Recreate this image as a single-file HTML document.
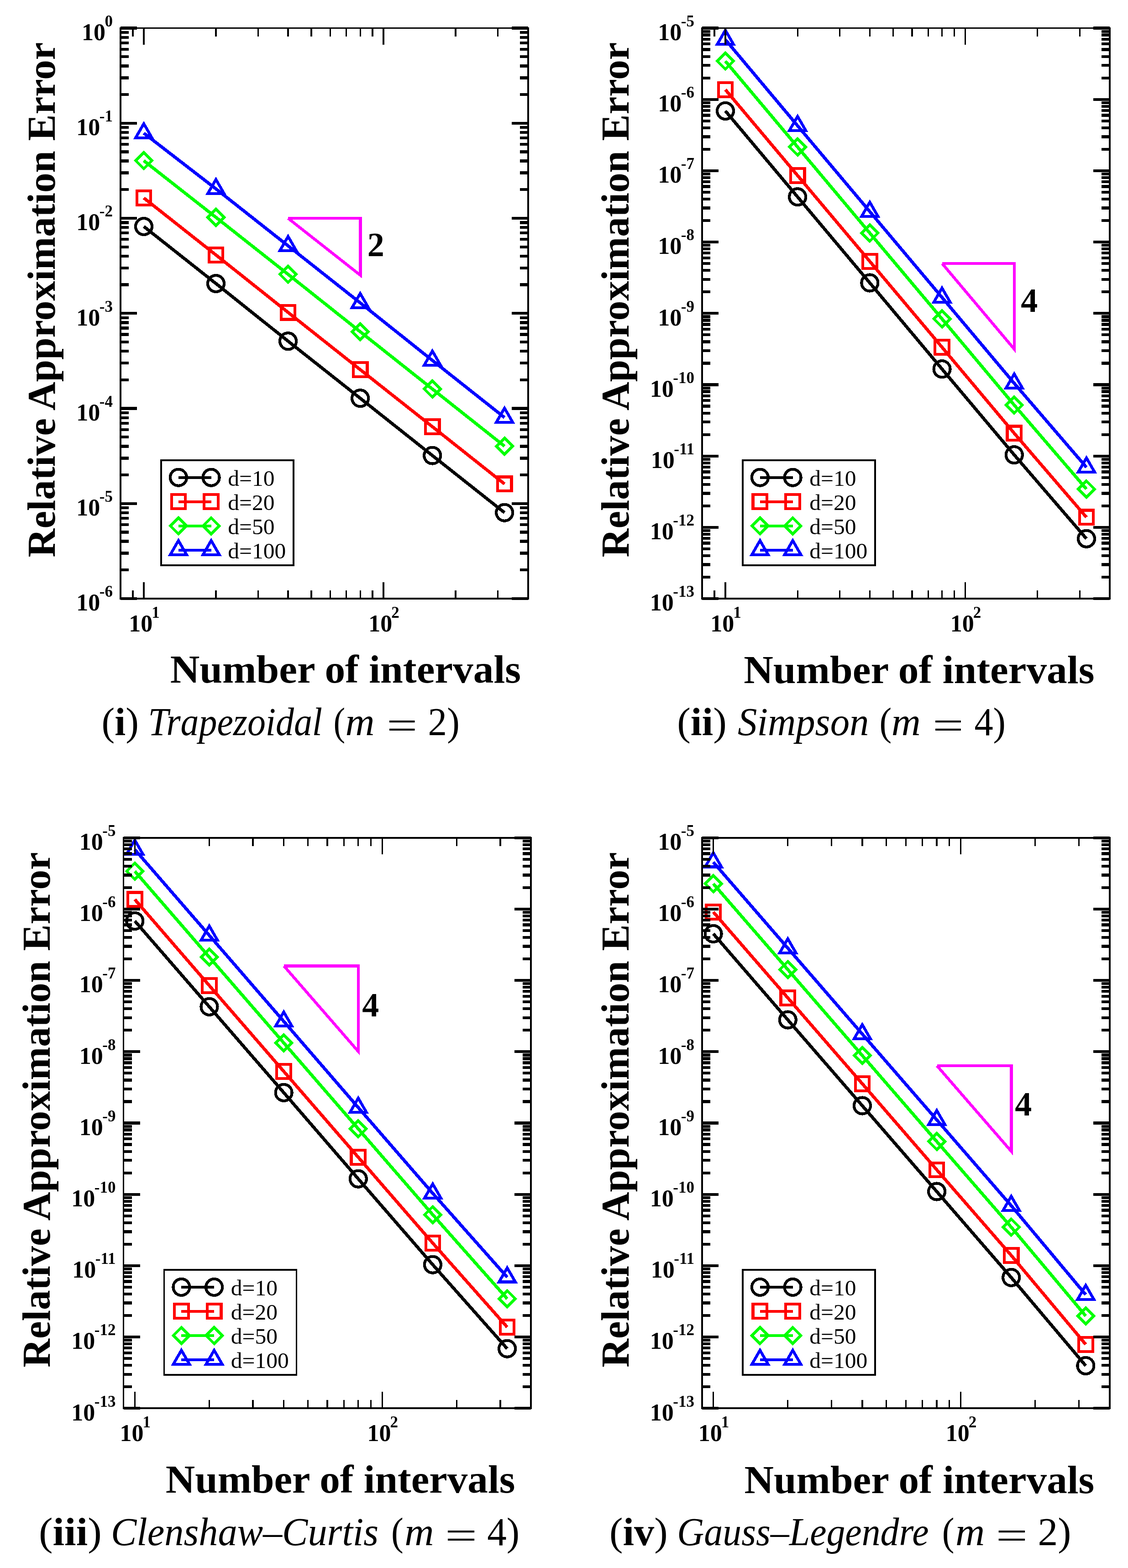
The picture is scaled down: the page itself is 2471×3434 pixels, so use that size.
<!DOCTYPE html>
<html><head><meta charset="utf-8"><title>Relative approximation error vs number of intervals</title>
<style>
html,body{margin:0;padding:0;background:#fff;}
body{width:2471px;height:3434px;overflow:hidden;}
svg{display:block;}
polyline,polygon,circle,rect,path{shape-rendering:crispEdges;}
text{font-family:"Liberation Serif", "Times New Roman", serif;fill:#000;}
</style></head>
<body>
<svg width="2471" height="3434" viewBox="0 0 2471 3434">
<rect width="2471" height="3434" fill="#fff"/>
<polyline points="315,496 473.04,621 631.08,747.2 789.12,872.2 947.16,997.6 1105.2,1122.7" fill="none" stroke="#000000" stroke-width="7" stroke-linejoin="round"/>
<circle cx="315" cy="496" r="18" fill="none" stroke="#000000" stroke-width="6.2"/>
<circle cx="473.04" cy="621" r="18" fill="none" stroke="#000000" stroke-width="6.2"/>
<circle cx="631.08" cy="747.2" r="18" fill="none" stroke="#000000" stroke-width="6.2"/>
<circle cx="789.12" cy="872.2" r="18" fill="none" stroke="#000000" stroke-width="6.2"/>
<circle cx="947.16" cy="997.6" r="18" fill="none" stroke="#000000" stroke-width="6.2"/>
<circle cx="1105.2" cy="1122.7" r="18" fill="none" stroke="#000000" stroke-width="6.2"/>
<polyline points="315,433.5 473.04,558.4 631.08,684.2 789.12,809.5 947.16,934.5 1105.2,1059.9" fill="none" stroke="#ff0000" stroke-width="7" stroke-linejoin="round"/>
<rect x="299.7" y="418.2" width="30.6" height="30.6" fill="none" stroke="#ff0000" stroke-width="6.2"/>
<rect x="457.74" y="543.1" width="30.6" height="30.6" fill="none" stroke="#ff0000" stroke-width="6.2"/>
<rect x="615.78" y="668.9" width="30.6" height="30.6" fill="none" stroke="#ff0000" stroke-width="6.2"/>
<rect x="773.82" y="794.2" width="30.6" height="30.6" fill="none" stroke="#ff0000" stroke-width="6.2"/>
<rect x="931.86" y="919.2" width="30.6" height="30.6" fill="none" stroke="#ff0000" stroke-width="6.2"/>
<rect x="1089.9" y="1044.6" width="30.6" height="30.6" fill="none" stroke="#ff0000" stroke-width="6.2"/>
<polyline points="315,351.9 473.04,476 631.08,600.8 789.12,726.5 947.16,851.9 1105.2,977.2" fill="none" stroke="#00ff00" stroke-width="7" stroke-linejoin="round"/>
<polygon points="315,334.2 332.7,351.9 315,369.6 297.3,351.9" fill="none" stroke="#00ff00" stroke-width="6.2"/>
<polygon points="473.04,458.3 490.74,476 473.04,493.7 455.34,476" fill="none" stroke="#00ff00" stroke-width="6.2"/>
<polygon points="631.08,583.1 648.78,600.8 631.08,618.5 613.38,600.8" fill="none" stroke="#00ff00" stroke-width="6.2"/>
<polygon points="789.12,708.8 806.82,726.5 789.12,744.2 771.42,726.5" fill="none" stroke="#00ff00" stroke-width="6.2"/>
<polygon points="947.16,834.2 964.86,851.9 947.16,869.6 929.46,851.9" fill="none" stroke="#00ff00" stroke-width="6.2"/>
<polygon points="1105.2,959.5 1122.9,977.2 1105.2,994.9 1087.5,977.2" fill="none" stroke="#00ff00" stroke-width="6.2"/>
<polyline points="315,291.5 473.04,413.65 631.08,538.4 789.12,663.3 947.16,789.3 1105.2,914.4" fill="none" stroke="#0000ff" stroke-width="7" stroke-linejoin="round"/>
<polygon points="315,270.9 332.84,301.8 297.16,301.8" fill="none" stroke="#0000ff" stroke-width="6.2"/>
<polygon points="473.04,393.05 490.88,423.95 455.2,423.95" fill="none" stroke="#0000ff" stroke-width="6.2"/>
<polygon points="631.08,517.8 648.92,548.7 613.24,548.7" fill="none" stroke="#0000ff" stroke-width="6.2"/>
<polygon points="789.12,642.7 806.96,673.6 771.28,673.6" fill="none" stroke="#0000ff" stroke-width="6.2"/>
<polygon points="947.16,768.7 965,799.6 929.32,799.6" fill="none" stroke="#0000ff" stroke-width="6.2"/>
<polygon points="1105.2,893.8 1123.04,924.7 1087.36,924.7" fill="none" stroke="#0000ff" stroke-width="6.2"/>
<path d="M264 1311H300M1157 1311H1121M264 1248.31H282M1157 1248.31H1139M264 1211.64H282M1157 1211.64H1139M264 1185.62H282M1157 1185.62H1139M264 1165.44H282M1157 1165.44H1139M264 1148.95H282M1157 1148.95H1139M264 1135.01H282M1157 1135.01H1139M264 1122.93H282M1157 1122.93H1139M264 1112.28H282M1157 1112.28H1139M264 1102.75H300M1157 1102.75H1121M264 1040.06H282M1157 1040.06H1139M264 1003.39H282M1157 1003.39H1139M264 977.37H282M1157 977.37H1139M264 957.19H282M1157 957.19H1139M264 940.7H282M1157 940.7H1139M264 926.76H282M1157 926.76H1139M264 914.68H282M1157 914.68H1139M264 904.03H282M1157 904.03H1139M264 894.5H300M1157 894.5H1121M264 831.81H282M1157 831.81H1139M264 795.14H282M1157 795.14H1139M264 769.12H282M1157 769.12H1139M264 748.94H282M1157 748.94H1139M264 732.45H282M1157 732.45H1139M264 718.51H282M1157 718.51H1139M264 706.43H282M1157 706.43H1139M264 695.78H282M1157 695.78H1139M264 686.25H300M1157 686.25H1121M264 623.56H282M1157 623.56H1139M264 586.89H282M1157 586.89H1139M264 560.87H282M1157 560.87H1139M264 540.69H282M1157 540.69H1139M264 524.2H282M1157 524.2H1139M264 510.26H282M1157 510.26H1139M264 498.18H282M1157 498.18H1139M264 487.53H282M1157 487.53H1139M264 478H300M1157 478H1121M264 415.31H282M1157 415.31H1139M264 378.64H282M1157 378.64H1139M264 352.62H282M1157 352.62H1139M264 332.44H282M1157 332.44H1139M264 315.95H282M1157 315.95H1139M264 302.01H282M1157 302.01H1139M264 289.93H282M1157 289.93H1139M264 279.28H282M1157 279.28H1139M264 269.75H300M1157 269.75H1121M264 207.06H282M1157 207.06H1139M264 170.39H282M1157 170.39H1139M264 144.37H282M1157 144.37H1139M264 124.19H282M1157 124.19H1139M264 107.7H282M1157 107.7H1139M264 93.76H282M1157 93.76H1139M264 81.68H282M1157 81.68H1139M264 71.03H282M1157 71.03H1139M264 61.5H300M1157 61.5H1121" stroke="#000" stroke-width="6.3" fill="none"/>
<path d="M290.98 1311V1293M290.98 61.5V79.5M315 1311V1275M315 61.5V97.5M473.04 1311V1293M473.04 61.5V79.5M565.49 1311V1293M565.49 61.5V79.5M631.08 1311V1293M631.08 61.5V79.5M681.96 1311V1293M681.96 61.5V79.5M723.53 1311V1293M723.53 61.5V79.5M758.68 1311V1293M758.68 61.5V79.5M789.12 1311V1293M789.12 61.5V79.5M815.98 1311V1293M815.98 61.5V79.5M840 1311V1275M840 61.5V97.5M998.04 1311V1293M998.04 61.5V79.5M1090.49 1311V1293M1090.49 61.5V79.5" stroke="#000" stroke-width="3.2" fill="none"/>
<rect x="264" y="61.5" width="893" height="1249.5" fill="none" stroke="#000" stroke-width="3.9"/>
<text x="247" y="1337.3" text-anchor="end" font-weight="bold" font-size="52">10<tspan font-size="35" dx="-1.5" dy="-30">-6</tspan></text>
<text x="247" y="1129.05" text-anchor="end" font-weight="bold" font-size="52">10<tspan font-size="35" dx="-1.5" dy="-30">-5</tspan></text>
<text x="247" y="920.8" text-anchor="end" font-weight="bold" font-size="52">10<tspan font-size="35" dx="-1.5" dy="-30">-4</tspan></text>
<text x="247" y="712.55" text-anchor="end" font-weight="bold" font-size="52">10<tspan font-size="35" dx="-1.5" dy="-30">-3</tspan></text>
<text x="247" y="504.3" text-anchor="end" font-weight="bold" font-size="52">10<tspan font-size="35" dx="-1.5" dy="-30">-2</tspan></text>
<text x="247" y="296.05" text-anchor="end" font-weight="bold" font-size="52">10<tspan font-size="35" dx="-1.5" dy="-30">-1</tspan></text>
<text x="247" y="87.8" text-anchor="end" font-weight="bold" font-size="52">10<tspan font-size="35" dx="-1.5" dy="-30">0</tspan></text>
<text x="316" y="1383" text-anchor="middle" font-weight="bold" font-size="52">10<tspan font-size="35" dx="-2" dy="-30">1</tspan></text>
<text x="841" y="1383" text-anchor="middle" font-weight="bold" font-size="52">10<tspan font-size="35" dx="-2" dy="-30">2</tspan></text>
<text transform="translate(119.8,1220.4) rotate(-90)" x="0" y="0" font-weight="bold" font-size="86.6" textLength="1127.84" lengthAdjust="spacingAndGlyphs">Relative Approximation Error</text>
<text x="372.67" y="1494.8" font-weight="bold" font-size="86.6" textLength="768.48" lengthAdjust="spacingAndGlyphs">Number of intervals</text>
<rect x="353" y="1008" width="290" height="230" fill="#fff" stroke="#000" stroke-width="3.6"/>
<path d="M390.9 1045.7H462.6" stroke="#000000" stroke-width="6"/>
<circle cx="390.9" cy="1045.7" r="18" fill="none" stroke="#000000" stroke-width="6.2"/>
<circle cx="462.6" cy="1045.7" r="18" fill="none" stroke="#000000" stroke-width="6.2"/>
<text x="499.3" y="1064.2" font-size="49.5">d=10</text>
<path d="M390.9 1098.5H462.6" stroke="#ff0000" stroke-width="6"/>
<rect x="375.6" y="1083.2" width="30.6" height="30.6" fill="none" stroke="#ff0000" stroke-width="6.2"/>
<rect x="447.3" y="1083.2" width="30.6" height="30.6" fill="none" stroke="#ff0000" stroke-width="6.2"/>
<text x="499.3" y="1117" font-size="49.5">d=20</text>
<path d="M390.9 1151.7H462.6" stroke="#00ff00" stroke-width="6"/>
<polygon points="390.9,1134 408.6,1151.7 390.9,1169.4 373.2,1151.7" fill="none" stroke="#00ff00" stroke-width="6.2"/>
<polygon points="462.6,1134 480.3,1151.7 462.6,1169.4 444.9,1151.7" fill="none" stroke="#00ff00" stroke-width="6.2"/>
<text x="499.3" y="1170.2" font-size="49.5">d=50</text>
<path d="M390.9 1204.5H462.6" stroke="#0000ff" stroke-width="6"/>
<polygon points="390.9,1183.9 408.74,1214.8 373.06,1214.8" fill="none" stroke="#0000ff" stroke-width="6.2"/>
<polygon points="462.6,1183.9 480.44,1214.8 444.76,1214.8" fill="none" stroke="#0000ff" stroke-width="6.2"/>
<text x="499.3" y="1223" font-size="49.5">d=100</text>
<path d="M631 478H789.5V602.85L631 478" fill="none" stroke="#ff00ff" stroke-width="6.3" stroke-linejoin="miter" stroke-miterlimit="10"/>
<text x="804.8" y="561.2" font-weight="bold" font-size="74">2</text>
<text x="222.59" y="1610.4" font-size="86" textLength="81.46" lengthAdjust="spacingAndGlyphs">(<tspan font-weight="bold">i</tspan>)</text>
<text x="324.46" y="1610.4" font-size="86" textLength="381.6" lengthAdjust="spacingAndGlyphs"><tspan font-style="italic">Trapezoidal</tspan></text>
<text x="730.51" y="1610.4" font-size="86" textLength="25.65" lengthAdjust="spacingAndGlyphs">(</text>
<text x="756.4" y="1610.4" font-size="86" textLength="64.1" lengthAdjust="spacingAndGlyphs"><tspan font-style="italic">m</tspan></text>
<text x="846.94" y="1618.4" font-size="86" textLength="67.43" lengthAdjust="spacingAndGlyphs">=</text>
<text x="937.6" y="1610.4" font-size="86" textLength="69.21" lengthAdjust="spacingAndGlyphs">2)</text>
<polyline points="1589,242.9 1747.19,431.2 1905.38,619.5 2063.57,808.2 2221.77,996.2 2379.96,1179.8" fill="none" stroke="#000000" stroke-width="7" stroke-linejoin="round"/>
<circle cx="1589" cy="242.9" r="18" fill="none" stroke="#000000" stroke-width="6.2"/>
<circle cx="1747.19" cy="431.2" r="18" fill="none" stroke="#000000" stroke-width="6.2"/>
<circle cx="1905.38" cy="619.5" r="18" fill="none" stroke="#000000" stroke-width="6.2"/>
<circle cx="2063.57" cy="808.2" r="18" fill="none" stroke="#000000" stroke-width="6.2"/>
<circle cx="2221.77" cy="996.2" r="18" fill="none" stroke="#000000" stroke-width="6.2"/>
<circle cx="2379.96" cy="1179.8" r="18" fill="none" stroke="#000000" stroke-width="6.2"/>
<polyline points="1589,196.3 1747.19,384.4 1905.38,572.4 2063.57,760.4 2221.77,948.9 2379.96,1132.9" fill="none" stroke="#ff0000" stroke-width="7" stroke-linejoin="round"/>
<rect x="1573.7" y="181" width="30.6" height="30.6" fill="none" stroke="#ff0000" stroke-width="6.2"/>
<rect x="1731.89" y="369.1" width="30.6" height="30.6" fill="none" stroke="#ff0000" stroke-width="6.2"/>
<rect x="1890.08" y="557.1" width="30.6" height="30.6" fill="none" stroke="#ff0000" stroke-width="6.2"/>
<rect x="2048.27" y="745.1" width="30.6" height="30.6" fill="none" stroke="#ff0000" stroke-width="6.2"/>
<rect x="2206.47" y="933.6" width="30.6" height="30.6" fill="none" stroke="#ff0000" stroke-width="6.2"/>
<rect x="2364.66" y="1117.6" width="30.6" height="30.6" fill="none" stroke="#ff0000" stroke-width="6.2"/>
<polyline points="1589,133.9 1747.19,321.9 1905.38,510.4 2063.57,698.4 2221.77,887.1 2379.96,1071.1" fill="none" stroke="#00ff00" stroke-width="7" stroke-linejoin="round"/>
<polygon points="1589,116.2 1606.7,133.9 1589,151.6 1571.3,133.9" fill="none" stroke="#00ff00" stroke-width="6.2"/>
<polygon points="1747.19,304.2 1764.89,321.9 1747.19,339.6 1729.49,321.9" fill="none" stroke="#00ff00" stroke-width="6.2"/>
<polygon points="1905.38,492.7 1923.08,510.4 1905.38,528.1 1887.68,510.4" fill="none" stroke="#00ff00" stroke-width="6.2"/>
<polygon points="2063.57,680.7 2081.27,698.4 2063.57,716.1 2045.87,698.4" fill="none" stroke="#00ff00" stroke-width="6.2"/>
<polygon points="2221.77,869.4 2239.47,887.1 2221.77,904.8 2204.07,887.1" fill="none" stroke="#00ff00" stroke-width="6.2"/>
<polygon points="2379.96,1053.4 2397.66,1071.1 2379.96,1088.8 2362.26,1071.1" fill="none" stroke="#00ff00" stroke-width="6.2"/>
<polyline points="1589,86.8 1747.19,275.4 1905.38,463.4 2063.57,651.4 2221.77,839.5 2379.96,1023.4" fill="none" stroke="#0000ff" stroke-width="7" stroke-linejoin="round"/>
<polygon points="1589,66.2 1606.84,97.1 1571.16,97.1" fill="none" stroke="#0000ff" stroke-width="6.2"/>
<polygon points="1747.19,254.8 1765.03,285.7 1729.35,285.7" fill="none" stroke="#0000ff" stroke-width="6.2"/>
<polygon points="1905.38,442.8 1923.22,473.7 1887.54,473.7" fill="none" stroke="#0000ff" stroke-width="6.2"/>
<polygon points="2063.57,630.8 2081.41,661.7 2045.73,661.7" fill="none" stroke="#0000ff" stroke-width="6.2"/>
<polygon points="2221.77,818.9 2239.61,849.8 2203.92,849.8" fill="none" stroke="#0000ff" stroke-width="6.2"/>
<polygon points="2379.96,1002.8 2397.8,1033.7 2362.12,1033.7" fill="none" stroke="#0000ff" stroke-width="6.2"/>
<path d="M1538 1311.1H1574M2431 1311.1H2395M1538 1264.08H1556M2431 1264.08H2413M1538 1236.57H1556M2431 1236.57H2413M1538 1217.06H1556M2431 1217.06H2413M1538 1201.92H1556M2431 1201.92H2413M1538 1189.55H1556M2431 1189.55H2413M1538 1179.1H1556M2431 1179.1H2413M1538 1170.04H1556M2431 1170.04H2413M1538 1162.05H1556M2431 1162.05H2413M1538 1154.9H1574M2431 1154.9H2395M1538 1107.88H1556M2431 1107.88H2413M1538 1080.37H1556M2431 1080.37H2413M1538 1060.86H1556M2431 1060.86H2413M1538 1045.72H1556M2431 1045.72H2413M1538 1033.35H1556M2431 1033.35H2413M1538 1022.9H1556M2431 1022.9H2413M1538 1013.84H1556M2431 1013.84H2413M1538 1005.85H1556M2431 1005.85H2413M1538 998.7H1574M2431 998.7H2395M1538 951.68H1556M2431 951.68H2413M1538 924.17H1556M2431 924.17H2413M1538 904.66H1556M2431 904.66H2413M1538 889.52H1556M2431 889.52H2413M1538 877.15H1556M2431 877.15H2413M1538 866.7H1556M2431 866.7H2413M1538 857.64H1556M2431 857.64H2413M1538 849.65H1556M2431 849.65H2413M1538 842.5H1574M2431 842.5H2395M1538 795.48H1556M2431 795.48H2413M1538 767.97H1556M2431 767.97H2413M1538 748.46H1556M2431 748.46H2413M1538 733.32H1556M2431 733.32H2413M1538 720.95H1556M2431 720.95H2413M1538 710.5H1556M2431 710.5H2413M1538 701.44H1556M2431 701.44H2413M1538 693.45H1556M2431 693.45H2413M1538 686.3H1574M2431 686.3H2395M1538 639.28H1556M2431 639.28H2413M1538 611.77H1556M2431 611.77H2413M1538 592.26H1556M2431 592.26H2413M1538 577.12H1556M2431 577.12H2413M1538 564.75H1556M2431 564.75H2413M1538 554.3H1556M2431 554.3H2413M1538 545.24H1556M2431 545.24H2413M1538 537.25H1556M2431 537.25H2413M1538 530.1H1574M2431 530.1H2395M1538 483.08H1556M2431 483.08H2413M1538 455.57H1556M2431 455.57H2413M1538 436.06H1556M2431 436.06H2413M1538 420.92H1556M2431 420.92H2413M1538 408.55H1556M2431 408.55H2413M1538 398.1H1556M2431 398.1H2413M1538 389.04H1556M2431 389.04H2413M1538 381.05H1556M2431 381.05H2413M1538 373.9H1574M2431 373.9H2395M1538 326.88H1556M2431 326.88H2413M1538 299.37H1556M2431 299.37H2413M1538 279.86H1556M2431 279.86H2413M1538 264.72H1556M2431 264.72H2413M1538 252.35H1556M2431 252.35H2413M1538 241.9H1556M2431 241.9H2413M1538 232.84H1556M2431 232.84H2413M1538 224.85H1556M2431 224.85H2413M1538 217.7H1574M2431 217.7H2395M1538 170.68H1556M2431 170.68H2413M1538 143.17H1556M2431 143.17H2413M1538 123.66H1556M2431 123.66H2413M1538 108.52H1556M2431 108.52H2413M1538 96.15H1556M2431 96.15H2413M1538 85.7H1556M2431 85.7H2413M1538 76.64H1556M2431 76.64H2413M1538 68.65H1556M2431 68.65H2413M1538 61.5H1574M2431 61.5H2395" stroke="#000" stroke-width="6.3" fill="none"/>
<path d="M1564.95 1311.1V1293.1M1564.95 61.5V79.5M1589 1311.1V1275.1M1589 61.5V97.5M1747.19 1311.1V1293.1M1747.19 61.5V79.5M1839.73 1311.1V1293.1M1839.73 61.5V79.5M1905.38 1311.1V1293.1M1905.38 61.5V79.5M1956.31 1311.1V1293.1M1956.31 61.5V79.5M1997.92 1311.1V1293.1M1997.92 61.5V79.5M2033.1 1311.1V1293.1M2033.1 61.5V79.5M2063.57 1311.1V1293.1M2063.57 61.5V79.5M2090.45 1311.1V1293.1M2090.45 61.5V79.5M2114.5 1311.1V1275.1M2114.5 61.5V97.5M2272.69 1311.1V1293.1M2272.69 61.5V79.5M2365.23 1311.1V1293.1M2365.23 61.5V79.5" stroke="#000" stroke-width="3.2" fill="none"/>
<rect x="1538" y="61.5" width="893" height="1249.6" fill="none" stroke="#000" stroke-width="3.9"/>
<text x="1521" y="1337.4" text-anchor="end" font-weight="bold" font-size="52">10<tspan font-size="35" dx="-1.5" dy="-30">-13</tspan></text>
<text x="1521" y="1181.2" text-anchor="end" font-weight="bold" font-size="52">10<tspan font-size="35" dx="-1.5" dy="-30">-12</tspan></text>
<text x="1521" y="1025" text-anchor="end" font-weight="bold" font-size="52">10<tspan font-size="35" dx="-1.5" dy="-30">-11</tspan></text>
<text x="1521" y="868.8" text-anchor="end" font-weight="bold" font-size="52">10<tspan font-size="35" dx="-1.5" dy="-30">-10</tspan></text>
<text x="1521" y="712.6" text-anchor="end" font-weight="bold" font-size="52">10<tspan font-size="35" dx="-1.5" dy="-30">-9</tspan></text>
<text x="1521" y="556.4" text-anchor="end" font-weight="bold" font-size="52">10<tspan font-size="35" dx="-1.5" dy="-30">-8</tspan></text>
<text x="1521" y="400.2" text-anchor="end" font-weight="bold" font-size="52">10<tspan font-size="35" dx="-1.5" dy="-30">-7</tspan></text>
<text x="1521" y="244" text-anchor="end" font-weight="bold" font-size="52">10<tspan font-size="35" dx="-1.5" dy="-30">-6</tspan></text>
<text x="1521" y="87.8" text-anchor="end" font-weight="bold" font-size="52">10<tspan font-size="35" dx="-1.5" dy="-30">-5</tspan></text>
<text x="1590" y="1383.1" text-anchor="middle" font-weight="bold" font-size="52">10<tspan font-size="35" dx="-2" dy="-30">1</tspan></text>
<text x="2115.5" y="1383.1" text-anchor="middle" font-weight="bold" font-size="52">10<tspan font-size="35" dx="-2" dy="-30">2</tspan></text>
<text transform="translate(1376.7,1220.4) rotate(-90)" x="0" y="0" font-weight="bold" font-size="86.6" textLength="1127.84" lengthAdjust="spacingAndGlyphs">Relative Approximation Error</text>
<text x="1629.27" y="1496" font-weight="bold" font-size="86.6" textLength="768.18" lengthAdjust="spacingAndGlyphs">Number of intervals</text>
<rect x="1627" y="1008" width="290" height="230" fill="#fff" stroke="#000" stroke-width="3.6"/>
<path d="M1664.9 1045.7H1736.6" stroke="#000000" stroke-width="6"/>
<circle cx="1664.9" cy="1045.7" r="18" fill="none" stroke="#000000" stroke-width="6.2"/>
<circle cx="1736.6" cy="1045.7" r="18" fill="none" stroke="#000000" stroke-width="6.2"/>
<text x="1773.3" y="1064.2" font-size="49.5">d=10</text>
<path d="M1664.9 1098.5H1736.6" stroke="#ff0000" stroke-width="6"/>
<rect x="1649.6" y="1083.2" width="30.6" height="30.6" fill="none" stroke="#ff0000" stroke-width="6.2"/>
<rect x="1721.3" y="1083.2" width="30.6" height="30.6" fill="none" stroke="#ff0000" stroke-width="6.2"/>
<text x="1773.3" y="1117" font-size="49.5">d=20</text>
<path d="M1664.9 1151.7H1736.6" stroke="#00ff00" stroke-width="6"/>
<polygon points="1664.9,1134 1682.6,1151.7 1664.9,1169.4 1647.2,1151.7" fill="none" stroke="#00ff00" stroke-width="6.2"/>
<polygon points="1736.6,1134 1754.3,1151.7 1736.6,1169.4 1718.9,1151.7" fill="none" stroke="#00ff00" stroke-width="6.2"/>
<text x="1773.3" y="1170.2" font-size="49.5">d=50</text>
<path d="M1664.9 1204.5H1736.6" stroke="#0000ff" stroke-width="6"/>
<polygon points="1664.9,1183.9 1682.74,1214.8 1647.06,1214.8" fill="none" stroke="#0000ff" stroke-width="6.2"/>
<polygon points="1736.6,1183.9 1754.44,1214.8 1718.76,1214.8" fill="none" stroke="#0000ff" stroke-width="6.2"/>
<text x="1773.3" y="1223" font-size="49.5">d=100</text>
<path d="M2064 577.2H2221.8V764.6L2064 577.2" fill="none" stroke="#ff00ff" stroke-width="6.3" stroke-linejoin="miter" stroke-miterlimit="10"/>
<text x="2236.3" y="683" font-weight="bold" font-size="74">4</text>
<text x="1483.2" y="1610.4" font-size="86" textLength="108.67" lengthAdjust="spacingAndGlyphs">(<tspan font-weight="bold">ii</tspan>)</text>
<text x="1616.01" y="1610.4" font-size="86" textLength="287.44" lengthAdjust="spacingAndGlyphs"><tspan font-style="italic">Simpson</tspan></text>
<text x="1926.61" y="1610.4" font-size="86" textLength="26.65" lengthAdjust="spacingAndGlyphs">(</text>
<text x="1952.7" y="1610.4" font-size="86" textLength="64.1" lengthAdjust="spacingAndGlyphs"><tspan font-style="italic">m</tspan></text>
<text x="2043.11" y="1618.4" font-size="86" textLength="67.78" lengthAdjust="spacingAndGlyphs">=</text>
<text x="2134.44" y="1610.4" font-size="86" textLength="68.54" lengthAdjust="spacingAndGlyphs">4)</text>
<polyline points="295.3,2017 458.46,2204.8 621.62,2392.9 784.77,2581.7 947.93,2769.7 1111.09,2953.7" fill="none" stroke="#000000" stroke-width="7" stroke-linejoin="round"/>
<circle cx="295.3" cy="2017" r="18" fill="none" stroke="#000000" stroke-width="6.2"/>
<circle cx="458.46" cy="2204.8" r="18" fill="none" stroke="#000000" stroke-width="6.2"/>
<circle cx="621.62" cy="2392.9" r="18" fill="none" stroke="#000000" stroke-width="6.2"/>
<circle cx="784.77" cy="2581.7" r="18" fill="none" stroke="#000000" stroke-width="6.2"/>
<circle cx="947.93" cy="2769.7" r="18" fill="none" stroke="#000000" stroke-width="6.2"/>
<circle cx="1111.09" cy="2953.7" r="18" fill="none" stroke="#000000" stroke-width="6.2"/>
<polyline points="295.3,1969.8 458.46,2158.4 621.62,2346.4 784.77,2534.4 947.93,2722.4 1111.09,2906.5" fill="none" stroke="#ff0000" stroke-width="7" stroke-linejoin="round"/>
<rect x="280" y="1954.5" width="30.6" height="30.6" fill="none" stroke="#ff0000" stroke-width="6.2"/>
<rect x="443.16" y="2143.1" width="30.6" height="30.6" fill="none" stroke="#ff0000" stroke-width="6.2"/>
<rect x="606.32" y="2331.1" width="30.6" height="30.6" fill="none" stroke="#ff0000" stroke-width="6.2"/>
<rect x="769.47" y="2519.1" width="30.6" height="30.6" fill="none" stroke="#ff0000" stroke-width="6.2"/>
<rect x="932.63" y="2707.1" width="30.6" height="30.6" fill="none" stroke="#ff0000" stroke-width="6.2"/>
<rect x="1095.79" y="2891.2" width="30.6" height="30.6" fill="none" stroke="#ff0000" stroke-width="6.2"/>
<polyline points="295.3,1908 458.46,2096.1 621.62,2284 784.77,2472.1 947.93,2660.3 1111.09,2844.4" fill="none" stroke="#00ff00" stroke-width="7" stroke-linejoin="round"/>
<polygon points="295.3,1890.3 313,1908 295.3,1925.7 277.6,1908" fill="none" stroke="#00ff00" stroke-width="6.2"/>
<polygon points="458.46,2078.4 476.16,2096.1 458.46,2113.8 440.76,2096.1" fill="none" stroke="#00ff00" stroke-width="6.2"/>
<polygon points="621.62,2266.3 639.32,2284 621.62,2301.7 603.92,2284" fill="none" stroke="#00ff00" stroke-width="6.2"/>
<polygon points="784.77,2454.4 802.47,2472.1 784.77,2489.8 767.07,2472.1" fill="none" stroke="#00ff00" stroke-width="6.2"/>
<polygon points="947.93,2642.6 965.63,2660.3 947.93,2678 930.23,2660.3" fill="none" stroke="#00ff00" stroke-width="6.2"/>
<polygon points="1111.09,2826.7 1128.79,2844.4 1111.09,2862.1 1093.39,2844.4" fill="none" stroke="#00ff00" stroke-width="6.2"/>
<polyline points="295.3,1860.5 458.46,2048.5 621.62,2236.9 784.77,2425.5 947.93,2613.4 1111.09,2797.2" fill="none" stroke="#0000ff" stroke-width="7" stroke-linejoin="round"/>
<polygon points="295.3,1839.9 313.14,1870.8 277.46,1870.8" fill="none" stroke="#0000ff" stroke-width="6.2"/>
<polygon points="458.46,2027.9 476.3,2058.8 440.62,2058.8" fill="none" stroke="#0000ff" stroke-width="6.2"/>
<polygon points="621.62,2216.3 639.46,2247.2 603.78,2247.2" fill="none" stroke="#0000ff" stroke-width="6.2"/>
<polygon points="784.77,2404.9 802.61,2435.8 766.93,2435.8" fill="none" stroke="#0000ff" stroke-width="6.2"/>
<polygon points="947.93,2592.8 965.77,2623.7 930.09,2623.7" fill="none" stroke="#0000ff" stroke-width="6.2"/>
<polygon points="1111.09,2776.6 1128.93,2807.5 1093.25,2807.5" fill="none" stroke="#0000ff" stroke-width="6.2"/>
<path d="M270.5 3084.3H306.5M1163 3084.3H1127M270.5 3037.28H288.5M1163 3037.28H1145M270.5 3009.77H288.5M1163 3009.77H1145M270.5 2990.26H288.5M1163 2990.26H1145M270.5 2975.12H288.5M1163 2975.12H1145M270.5 2962.75H288.5M1163 2962.75H1145M270.5 2952.3H288.5M1163 2952.3H1145M270.5 2943.24H288.5M1163 2943.24H1145M270.5 2935.25H288.5M1163 2935.25H1145M270.5 2928.1H306.5M1163 2928.1H1127M270.5 2881.08H288.5M1163 2881.08H1145M270.5 2853.57H288.5M1163 2853.57H1145M270.5 2834.06H288.5M1163 2834.06H1145M270.5 2818.92H288.5M1163 2818.92H1145M270.5 2806.55H288.5M1163 2806.55H1145M270.5 2796.1H288.5M1163 2796.1H1145M270.5 2787.04H288.5M1163 2787.04H1145M270.5 2779.05H288.5M1163 2779.05H1145M270.5 2771.9H306.5M1163 2771.9H1127M270.5 2724.88H288.5M1163 2724.88H1145M270.5 2697.37H288.5M1163 2697.37H1145M270.5 2677.86H288.5M1163 2677.86H1145M270.5 2662.72H288.5M1163 2662.72H1145M270.5 2650.35H288.5M1163 2650.35H1145M270.5 2639.9H288.5M1163 2639.9H1145M270.5 2630.84H288.5M1163 2630.84H1145M270.5 2622.85H288.5M1163 2622.85H1145M270.5 2615.7H306.5M1163 2615.7H1127M270.5 2568.68H288.5M1163 2568.68H1145M270.5 2541.17H288.5M1163 2541.17H1145M270.5 2521.66H288.5M1163 2521.66H1145M270.5 2506.52H288.5M1163 2506.52H1145M270.5 2494.15H288.5M1163 2494.15H1145M270.5 2483.7H288.5M1163 2483.7H1145M270.5 2474.64H288.5M1163 2474.64H1145M270.5 2466.65H288.5M1163 2466.65H1145M270.5 2459.5H306.5M1163 2459.5H1127M270.5 2412.48H288.5M1163 2412.48H1145M270.5 2384.97H288.5M1163 2384.97H1145M270.5 2365.46H288.5M1163 2365.46H1145M270.5 2350.32H288.5M1163 2350.32H1145M270.5 2337.95H288.5M1163 2337.95H1145M270.5 2327.5H288.5M1163 2327.5H1145M270.5 2318.44H288.5M1163 2318.44H1145M270.5 2310.45H288.5M1163 2310.45H1145M270.5 2303.3H306.5M1163 2303.3H1127M270.5 2256.28H288.5M1163 2256.28H1145M270.5 2228.77H288.5M1163 2228.77H1145M270.5 2209.26H288.5M1163 2209.26H1145M270.5 2194.12H288.5M1163 2194.12H1145M270.5 2181.75H288.5M1163 2181.75H1145M270.5 2171.3H288.5M1163 2171.3H1145M270.5 2162.24H288.5M1163 2162.24H1145M270.5 2154.25H288.5M1163 2154.25H1145M270.5 2147.1H306.5M1163 2147.1H1127M270.5 2100.08H288.5M1163 2100.08H1145M270.5 2072.57H288.5M1163 2072.57H1145M270.5 2053.06H288.5M1163 2053.06H1145M270.5 2037.92H288.5M1163 2037.92H1145M270.5 2025.55H288.5M1163 2025.55H1145M270.5 2015.1H288.5M1163 2015.1H1145M270.5 2006.04H288.5M1163 2006.04H1145M270.5 1998.05H288.5M1163 1998.05H1145M270.5 1990.9H306.5M1163 1990.9H1127M270.5 1943.88H288.5M1163 1943.88H1145M270.5 1916.37H288.5M1163 1916.37H1145M270.5 1896.86H288.5M1163 1896.86H1145M270.5 1881.72H288.5M1163 1881.72H1145M270.5 1869.35H288.5M1163 1869.35H1145M270.5 1858.9H288.5M1163 1858.9H1145M270.5 1849.84H288.5M1163 1849.84H1145M270.5 1841.85H288.5M1163 1841.85H1145M270.5 1834.7H306.5M1163 1834.7H1127" stroke="#000" stroke-width="6.3" fill="none"/>
<path d="M295.3 3084.3V3048.3M295.3 1834.7V1870.7M458.46 3084.3V3066.3M458.46 1834.7V1852.7M553.9 3084.3V3066.3M553.9 1834.7V1852.7M621.62 3084.3V3066.3M621.62 1834.7V1852.7M674.14 3084.3V3066.3M674.14 1834.7V1852.7M717.06 3084.3V3066.3M717.06 1834.7V1852.7M753.34 3084.3V3066.3M753.34 1834.7V1852.7M784.77 3084.3V3066.3M784.77 1834.7V1852.7M812.5 3084.3V3066.3M812.5 1834.7V1852.7M837.3 3084.3V3048.3M837.3 1834.7V1870.7M1000.46 3084.3V3066.3M1000.46 1834.7V1852.7M1095.9 3084.3V3066.3M1095.9 1834.7V1852.7" stroke="#000" stroke-width="3.2" fill="none"/>
<rect x="270.5" y="1834.7" width="892.5" height="1249.6" fill="none" stroke="#000" stroke-width="3.9"/>
<text x="253.5" y="3110.6" text-anchor="end" font-weight="bold" font-size="52">10<tspan font-size="35" dx="-1.5" dy="-30">-13</tspan></text>
<text x="253.5" y="2954.4" text-anchor="end" font-weight="bold" font-size="52">10<tspan font-size="35" dx="-1.5" dy="-30">-12</tspan></text>
<text x="253.5" y="2798.2" text-anchor="end" font-weight="bold" font-size="52">10<tspan font-size="35" dx="-1.5" dy="-30">-11</tspan></text>
<text x="253.5" y="2642" text-anchor="end" font-weight="bold" font-size="52">10<tspan font-size="35" dx="-1.5" dy="-30">-10</tspan></text>
<text x="253.5" y="2485.8" text-anchor="end" font-weight="bold" font-size="52">10<tspan font-size="35" dx="-1.5" dy="-30">-9</tspan></text>
<text x="253.5" y="2329.6" text-anchor="end" font-weight="bold" font-size="52">10<tspan font-size="35" dx="-1.5" dy="-30">-8</tspan></text>
<text x="253.5" y="2173.4" text-anchor="end" font-weight="bold" font-size="52">10<tspan font-size="35" dx="-1.5" dy="-30">-7</tspan></text>
<text x="253.5" y="2017.2" text-anchor="end" font-weight="bold" font-size="52">10<tspan font-size="35" dx="-1.5" dy="-30">-6</tspan></text>
<text x="253.5" y="1861" text-anchor="end" font-weight="bold" font-size="52">10<tspan font-size="35" dx="-1.5" dy="-30">-5</tspan></text>
<text x="296.3" y="3156.3" text-anchor="middle" font-weight="bold" font-size="52">10<tspan font-size="35" dx="-2" dy="-30">1</tspan></text>
<text x="838.3" y="3156.3" text-anchor="middle" font-weight="bold" font-size="52">10<tspan font-size="35" dx="-2" dy="-30">2</tspan></text>
<text transform="translate(108.9,2994.8) rotate(-90)" x="0" y="0" font-weight="bold" font-size="86.6" textLength="1128.34" lengthAdjust="spacingAndGlyphs">Relative Approximation Error</text>
<text x="362.87" y="3268.7" font-weight="bold" font-size="86.6" textLength="765.47" lengthAdjust="spacingAndGlyphs">Number of intervals</text>
<rect x="359.5" y="2781.2" width="290" height="230" fill="#fff" stroke="#000" stroke-width="3.6"/>
<path d="M397.4 2818.9H469.1" stroke="#000000" stroke-width="6"/>
<circle cx="397.4" cy="2818.9" r="18" fill="none" stroke="#000000" stroke-width="6.2"/>
<circle cx="469.1" cy="2818.9" r="18" fill="none" stroke="#000000" stroke-width="6.2"/>
<text x="505.8" y="2837.4" font-size="49.5">d=10</text>
<path d="M397.4 2871.7H469.1" stroke="#ff0000" stroke-width="6"/>
<rect x="382.1" y="2856.4" width="30.6" height="30.6" fill="none" stroke="#ff0000" stroke-width="6.2"/>
<rect x="453.8" y="2856.4" width="30.6" height="30.6" fill="none" stroke="#ff0000" stroke-width="6.2"/>
<text x="505.8" y="2890.2" font-size="49.5">d=20</text>
<path d="M397.4 2924.9H469.1" stroke="#00ff00" stroke-width="6"/>
<polygon points="397.4,2907.2 415.1,2924.9 397.4,2942.6 379.7,2924.9" fill="none" stroke="#00ff00" stroke-width="6.2"/>
<polygon points="469.1,2907.2 486.8,2924.9 469.1,2942.6 451.4,2924.9" fill="none" stroke="#00ff00" stroke-width="6.2"/>
<text x="505.8" y="2943.4" font-size="49.5">d=50</text>
<path d="M397.4 2977.7H469.1" stroke="#0000ff" stroke-width="6"/>
<polygon points="397.4,2957.1 415.24,2988 379.56,2988" fill="none" stroke="#0000ff" stroke-width="6.2"/>
<polygon points="469.1,2957.1 486.94,2988 451.26,2988" fill="none" stroke="#0000ff" stroke-width="6.2"/>
<text x="505.8" y="2996.2" font-size="49.5">d=100</text>
<path d="M622 2115.5H784.7V2302.6L622 2115.5" fill="none" stroke="#ff00ff" stroke-width="6.3" stroke-linejoin="miter" stroke-miterlimit="10"/>
<text x="793.2" y="2226.2" font-weight="bold" font-size="74">4</text>
<text x="84.99" y="3383.5" font-size="86" textLength="137.79" lengthAdjust="spacingAndGlyphs">(<tspan font-weight="bold">iii</tspan>)</text>
<text x="243.08" y="3383.5" font-size="86" textLength="586.05" lengthAdjust="spacingAndGlyphs"><tspan font-style="italic">Clenshaw–Curtis</tspan></text>
<text x="857" y="3383.5" font-size="86" textLength="26.77" lengthAdjust="spacingAndGlyphs">(</text>
<text x="886.39" y="3383.5" font-size="86" textLength="64.32" lengthAdjust="spacingAndGlyphs"><tspan font-style="italic">m</tspan></text>
<text x="974.69" y="3391.5" font-size="86" textLength="70.5" lengthAdjust="spacingAndGlyphs">=</text>
<text x="1067.21" y="3383.5" font-size="86" textLength="70.78" lengthAdjust="spacingAndGlyphs">4)</text>
<polyline points="1562.6,2045 1725.76,2233.5 1888.92,2421.5 2052.07,2609.5 2215.23,2797.8 2378.39,2991" fill="none" stroke="#000000" stroke-width="7" stroke-linejoin="round"/>
<circle cx="1562.6" cy="2045" r="18" fill="none" stroke="#000000" stroke-width="6.2"/>
<circle cx="1725.76" cy="2233.5" r="18" fill="none" stroke="#000000" stroke-width="6.2"/>
<circle cx="1888.92" cy="2421.5" r="18" fill="none" stroke="#000000" stroke-width="6.2"/>
<circle cx="2052.07" cy="2609.5" r="18" fill="none" stroke="#000000" stroke-width="6.2"/>
<circle cx="2215.23" cy="2797.8" r="18" fill="none" stroke="#000000" stroke-width="6.2"/>
<circle cx="2378.39" cy="2991" r="18" fill="none" stroke="#000000" stroke-width="6.2"/>
<polyline points="1562.6,1997.4 1725.76,2185.4 1888.92,2373.4 2052.07,2561.9 2215.23,2749.4 2378.39,2944.3" fill="none" stroke="#ff0000" stroke-width="7" stroke-linejoin="round"/>
<rect x="1547.3" y="1982.1" width="30.6" height="30.6" fill="none" stroke="#ff0000" stroke-width="6.2"/>
<rect x="1710.46" y="2170.1" width="30.6" height="30.6" fill="none" stroke="#ff0000" stroke-width="6.2"/>
<rect x="1873.62" y="2358.1" width="30.6" height="30.6" fill="none" stroke="#ff0000" stroke-width="6.2"/>
<rect x="2036.77" y="2546.6" width="30.6" height="30.6" fill="none" stroke="#ff0000" stroke-width="6.2"/>
<rect x="2199.93" y="2734.1" width="30.6" height="30.6" fill="none" stroke="#ff0000" stroke-width="6.2"/>
<rect x="2363.09" y="2929" width="30.6" height="30.6" fill="none" stroke="#ff0000" stroke-width="6.2"/>
<polyline points="1562.6,1935.4 1725.76,2123.4 1888.92,2311.6 2052.07,2499.9 2215.23,2687.5 2378.39,2882" fill="none" stroke="#00ff00" stroke-width="7" stroke-linejoin="round"/>
<polygon points="1562.6,1917.7 1580.3,1935.4 1562.6,1953.1 1544.9,1935.4" fill="none" stroke="#00ff00" stroke-width="6.2"/>
<polygon points="1725.76,2105.7 1743.46,2123.4 1725.76,2141.1 1708.06,2123.4" fill="none" stroke="#00ff00" stroke-width="6.2"/>
<polygon points="1888.92,2293.9 1906.62,2311.6 1888.92,2329.3 1871.22,2311.6" fill="none" stroke="#00ff00" stroke-width="6.2"/>
<polygon points="2052.07,2482.2 2069.77,2499.9 2052.07,2517.6 2034.37,2499.9" fill="none" stroke="#00ff00" stroke-width="6.2"/>
<polygon points="2215.23,2669.8 2232.93,2687.5 2215.23,2705.2 2197.53,2687.5" fill="none" stroke="#00ff00" stroke-width="6.2"/>
<polygon points="2378.39,2864.3 2396.09,2882 2378.39,2899.7 2360.69,2882" fill="none" stroke="#00ff00" stroke-width="6.2"/>
<polyline points="1562.6,1888.2 1725.76,2076.5 1888.92,2264.6 2052.07,2452.5 2215.23,2640.5 2378.39,2835.4" fill="none" stroke="#0000ff" stroke-width="7" stroke-linejoin="round"/>
<polygon points="1562.6,1867.6 1580.44,1898.5 1544.76,1898.5" fill="none" stroke="#0000ff" stroke-width="6.2"/>
<polygon points="1725.76,2055.9 1743.6,2086.8 1707.92,2086.8" fill="none" stroke="#0000ff" stroke-width="6.2"/>
<polygon points="1888.92,2244 1906.76,2274.9 1871.08,2274.9" fill="none" stroke="#0000ff" stroke-width="6.2"/>
<polygon points="2052.07,2431.9 2069.91,2462.8 2034.23,2462.8" fill="none" stroke="#0000ff" stroke-width="6.2"/>
<polygon points="2215.23,2619.9 2233.07,2650.8 2197.39,2650.8" fill="none" stroke="#0000ff" stroke-width="6.2"/>
<polygon points="2378.39,2814.8 2396.23,2845.7 2360.55,2845.7" fill="none" stroke="#0000ff" stroke-width="6.2"/>
<path d="M1538 3084.3H1574M2430.8 3084.3H2394.8M1538 3037.28H1556M2430.8 3037.28H2412.8M1538 3009.77H1556M2430.8 3009.77H2412.8M1538 2990.26H1556M2430.8 2990.26H2412.8M1538 2975.12H1556M2430.8 2975.12H2412.8M1538 2962.75H1556M2430.8 2962.75H2412.8M1538 2952.3H1556M2430.8 2952.3H2412.8M1538 2943.24H1556M2430.8 2943.24H2412.8M1538 2935.25H1556M2430.8 2935.25H2412.8M1538 2928.1H1574M2430.8 2928.1H2394.8M1538 2881.08H1556M2430.8 2881.08H2412.8M1538 2853.57H1556M2430.8 2853.57H2412.8M1538 2834.06H1556M2430.8 2834.06H2412.8M1538 2818.92H1556M2430.8 2818.92H2412.8M1538 2806.55H1556M2430.8 2806.55H2412.8M1538 2796.1H1556M2430.8 2796.1H2412.8M1538 2787.04H1556M2430.8 2787.04H2412.8M1538 2779.05H1556M2430.8 2779.05H2412.8M1538 2771.9H1574M2430.8 2771.9H2394.8M1538 2724.88H1556M2430.8 2724.88H2412.8M1538 2697.37H1556M2430.8 2697.37H2412.8M1538 2677.86H1556M2430.8 2677.86H2412.8M1538 2662.72H1556M2430.8 2662.72H2412.8M1538 2650.35H1556M2430.8 2650.35H2412.8M1538 2639.9H1556M2430.8 2639.9H2412.8M1538 2630.84H1556M2430.8 2630.84H2412.8M1538 2622.85H1556M2430.8 2622.85H2412.8M1538 2615.7H1574M2430.8 2615.7H2394.8M1538 2568.68H1556M2430.8 2568.68H2412.8M1538 2541.17H1556M2430.8 2541.17H2412.8M1538 2521.66H1556M2430.8 2521.66H2412.8M1538 2506.52H1556M2430.8 2506.52H2412.8M1538 2494.15H1556M2430.8 2494.15H2412.8M1538 2483.7H1556M2430.8 2483.7H2412.8M1538 2474.64H1556M2430.8 2474.64H2412.8M1538 2466.65H1556M2430.8 2466.65H2412.8M1538 2459.5H1574M2430.8 2459.5H2394.8M1538 2412.48H1556M2430.8 2412.48H2412.8M1538 2384.97H1556M2430.8 2384.97H2412.8M1538 2365.46H1556M2430.8 2365.46H2412.8M1538 2350.32H1556M2430.8 2350.32H2412.8M1538 2337.95H1556M2430.8 2337.95H2412.8M1538 2327.5H1556M2430.8 2327.5H2412.8M1538 2318.44H1556M2430.8 2318.44H2412.8M1538 2310.45H1556M2430.8 2310.45H2412.8M1538 2303.3H1574M2430.8 2303.3H2394.8M1538 2256.28H1556M2430.8 2256.28H2412.8M1538 2228.77H1556M2430.8 2228.77H2412.8M1538 2209.26H1556M2430.8 2209.26H2412.8M1538 2194.12H1556M2430.8 2194.12H2412.8M1538 2181.75H1556M2430.8 2181.75H2412.8M1538 2171.3H1556M2430.8 2171.3H2412.8M1538 2162.24H1556M2430.8 2162.24H2412.8M1538 2154.25H1556M2430.8 2154.25H2412.8M1538 2147.1H1574M2430.8 2147.1H2394.8M1538 2100.08H1556M2430.8 2100.08H2412.8M1538 2072.57H1556M2430.8 2072.57H2412.8M1538 2053.06H1556M2430.8 2053.06H2412.8M1538 2037.92H1556M2430.8 2037.92H2412.8M1538 2025.55H1556M2430.8 2025.55H2412.8M1538 2015.1H1556M2430.8 2015.1H2412.8M1538 2006.04H1556M2430.8 2006.04H2412.8M1538 1998.05H1556M2430.8 1998.05H2412.8M1538 1990.9H1574M2430.8 1990.9H2394.8M1538 1943.88H1556M2430.8 1943.88H2412.8M1538 1916.37H1556M2430.8 1916.37H2412.8M1538 1896.86H1556M2430.8 1896.86H2412.8M1538 1881.72H1556M2430.8 1881.72H2412.8M1538 1869.35H1556M2430.8 1869.35H2412.8M1538 1858.9H1556M2430.8 1858.9H2412.8M1538 1849.84H1556M2430.8 1849.84H2412.8M1538 1841.85H1556M2430.8 1841.85H2412.8M1538 1834.7H1574M2430.8 1834.7H2394.8" stroke="#000" stroke-width="6.3" fill="none"/>
<path d="M1562.6 3084.3V3048.3M1562.6 1834.7V1870.7M1725.76 3084.3V3066.3M1725.76 1834.7V1852.7M1821.2 3084.3V3066.3M1821.2 1834.7V1852.7M1888.92 3084.3V3066.3M1888.92 1834.7V1852.7M1941.44 3084.3V3066.3M1941.44 1834.7V1852.7M1984.36 3084.3V3066.3M1984.36 1834.7V1852.7M2020.64 3084.3V3066.3M2020.64 1834.7V1852.7M2052.07 3084.3V3066.3M2052.07 1834.7V1852.7M2079.8 3084.3V3066.3M2079.8 1834.7V1852.7M2104.6 3084.3V3048.3M2104.6 1834.7V1870.7M2267.76 3084.3V3066.3M2267.76 1834.7V1852.7M2363.2 3084.3V3066.3M2363.2 1834.7V1852.7" stroke="#000" stroke-width="3.2" fill="none"/>
<rect x="1538" y="1834.7" width="892.8" height="1249.6" fill="none" stroke="#000" stroke-width="3.9"/>
<text x="1521" y="3110.6" text-anchor="end" font-weight="bold" font-size="52">10<tspan font-size="35" dx="-1.5" dy="-30">-13</tspan></text>
<text x="1521" y="2954.4" text-anchor="end" font-weight="bold" font-size="52">10<tspan font-size="35" dx="-1.5" dy="-30">-12</tspan></text>
<text x="1521" y="2798.2" text-anchor="end" font-weight="bold" font-size="52">10<tspan font-size="35" dx="-1.5" dy="-30">-11</tspan></text>
<text x="1521" y="2642" text-anchor="end" font-weight="bold" font-size="52">10<tspan font-size="35" dx="-1.5" dy="-30">-10</tspan></text>
<text x="1521" y="2485.8" text-anchor="end" font-weight="bold" font-size="52">10<tspan font-size="35" dx="-1.5" dy="-30">-9</tspan></text>
<text x="1521" y="2329.6" text-anchor="end" font-weight="bold" font-size="52">10<tspan font-size="35" dx="-1.5" dy="-30">-8</tspan></text>
<text x="1521" y="2173.4" text-anchor="end" font-weight="bold" font-size="52">10<tspan font-size="35" dx="-1.5" dy="-30">-7</tspan></text>
<text x="1521" y="2017.2" text-anchor="end" font-weight="bold" font-size="52">10<tspan font-size="35" dx="-1.5" dy="-30">-6</tspan></text>
<text x="1521" y="1861" text-anchor="end" font-weight="bold" font-size="52">10<tspan font-size="35" dx="-1.5" dy="-30">-5</tspan></text>
<text x="1563.6" y="3156.3" text-anchor="middle" font-weight="bold" font-size="52">10<tspan font-size="35" dx="-2" dy="-30">1</tspan></text>
<text x="2105.6" y="3156.3" text-anchor="middle" font-weight="bold" font-size="52">10<tspan font-size="35" dx="-2" dy="-30">2</tspan></text>
<text transform="translate(1376.7,2994.8) rotate(-90)" x="0" y="0" font-weight="bold" font-size="86.6" textLength="1128.34" lengthAdjust="spacingAndGlyphs">Relative Approximation Error</text>
<text x="1630.47" y="3269.7" font-weight="bold" font-size="86.6" textLength="766.88" lengthAdjust="spacingAndGlyphs">Number of intervals</text>
<rect x="1627" y="2781.2" width="290" height="230" fill="#fff" stroke="#000" stroke-width="3.6"/>
<path d="M1664.9 2818.9H1736.6" stroke="#000000" stroke-width="6"/>
<circle cx="1664.9" cy="2818.9" r="18" fill="none" stroke="#000000" stroke-width="6.2"/>
<circle cx="1736.6" cy="2818.9" r="18" fill="none" stroke="#000000" stroke-width="6.2"/>
<text x="1773.3" y="2837.4" font-size="49.5">d=10</text>
<path d="M1664.9 2871.7H1736.6" stroke="#ff0000" stroke-width="6"/>
<rect x="1649.6" y="2856.4" width="30.6" height="30.6" fill="none" stroke="#ff0000" stroke-width="6.2"/>
<rect x="1721.3" y="2856.4" width="30.6" height="30.6" fill="none" stroke="#ff0000" stroke-width="6.2"/>
<text x="1773.3" y="2890.2" font-size="49.5">d=20</text>
<path d="M1664.9 2924.9H1736.6" stroke="#00ff00" stroke-width="6"/>
<polygon points="1664.9,2907.2 1682.6,2924.9 1664.9,2942.6 1647.2,2924.9" fill="none" stroke="#00ff00" stroke-width="6.2"/>
<polygon points="1736.6,2907.2 1754.3,2924.9 1736.6,2942.6 1718.9,2924.9" fill="none" stroke="#00ff00" stroke-width="6.2"/>
<text x="1773.3" y="2943.4" font-size="49.5">d=50</text>
<path d="M1664.9 2977.7H1736.6" stroke="#0000ff" stroke-width="6"/>
<polygon points="1664.9,2957.1 1682.74,2988 1647.06,2988" fill="none" stroke="#0000ff" stroke-width="6.2"/>
<polygon points="1736.6,2957.1 1754.44,2988 1718.76,2988" fill="none" stroke="#0000ff" stroke-width="6.2"/>
<text x="1773.3" y="2996.2" font-size="49.5">d=100</text>
<path d="M2052.5 2334H2215.6V2521.8L2052.5 2334" fill="none" stroke="#ff00ff" stroke-width="6.3" stroke-linejoin="miter" stroke-miterlimit="10"/>
<text x="2223.2" y="2443" font-weight="bold" font-size="74">4</text>
<text x="1335.12" y="3383.5" font-size="86" textLength="127.62" lengthAdjust="spacingAndGlyphs">(<tspan font-weight="bold">iv</tspan>)</text>
<text x="1483.3" y="3383.5" font-size="86" textLength="551.22" lengthAdjust="spacingAndGlyphs"><tspan font-style="italic">Gauss–Legendre</tspan></text>
<text x="2063.7" y="3383.5" font-size="86" textLength="26.77" lengthAdjust="spacingAndGlyphs">(</text>
<text x="2093.1" y="3383.5" font-size="86" textLength="64.21" lengthAdjust="spacingAndGlyphs"><tspan font-style="italic">m</tspan></text>
<text x="2181.45" y="3391.5" font-size="86" textLength="69.68" lengthAdjust="spacingAndGlyphs">=</text>
<text x="2273.54" y="3383.5" font-size="86" textLength="72.96" lengthAdjust="spacingAndGlyphs">2)</text>
</svg>
</body></html>
